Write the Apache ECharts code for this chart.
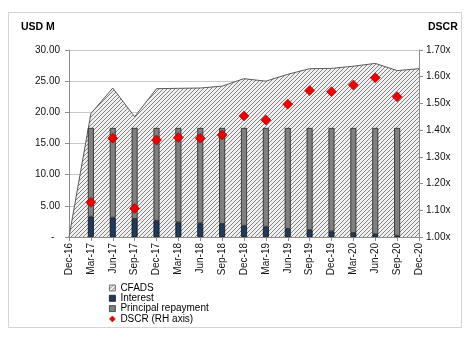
<!DOCTYPE html>
<html>
<head>
<meta charset="utf-8">
<script src="https://cdn.jsdelivr.net/npm/echarts@6.0.0/dist/echarts.min.js"></script>
<style>
html,body{margin:0;padding:0;background:#fff;}
#chart{width:474px;height:356px;}
</style>
</head>
<body>
<div id="chart"></div>
<script>
// ---- data ----
var categories = ['Dec-16','Mar-17','Jun-17','Sep-17','Dec-17','Mar-18','Jun-18','Sep-18','Dec-18','Mar-19','Jun-19','Sep-19','Dec-19','Mar-20','Jun-20','Sep-20','Dec-20'];
var cfads = [0, 19.8, 23.9, 19.3, 23.8, 23.85, 23.9, 24.2, 25.4, 25.0, 26.1, 27.0, 27.05, 27.4, 27.85, 26.7, 27.0];
var interest = [null, 3.25, 3.1, 2.9, 2.6, 2.35, 2.2, 2.1, 1.8, 1.65, 1.3, 1.1, 0.9, 0.65, 0.45, 0.2, null];
var principal = [null, 14.25, 14.4, 14.6, 14.9, 15.15, 15.3, 15.4, 15.7, 15.85, 16.2, 16.4, 16.6, 16.85, 17.05, 17.3, null];
var dscr = [null, 1.13, 1.37, 1.107, 1.363, 1.372, 1.37, 1.382, 1.453, 1.438, 1.497, 1.548, 1.544, 1.569, 1.596, 1.525, null];
var leftTicks = {min: 0, max: 30, interval: 5};
var rightTicks = {min: 1.0, max: 1.7, interval: 0.1};

// ---- hatch pattern ----
function makeHatch() {
  var c = document.createElement('canvas');
  c.width = 4; c.height = 4;
  var ctx = c.getContext('2d');
  ctx.fillStyle = '#f0f0f0';
  ctx.fillRect(0, 0, 4, 4);
  ctx.fillStyle = '#848484';
  for (var i = 0; i < 4; i++) { ctx.fillRect(3 - i, i, 1, 1); }
  return c;
}
var hatch = {image: makeHatch(), repeat: 'repeat'};

var FONT = "'Liberation Sans', Arial, sans-serif";
var chart = echarts.init(document.getElementById('chart'), null, {renderer: 'canvas'});
chart.setOption({
  animation: false,
  backgroundColor: '#ffffff',
  textStyle: {fontFamily: FONT},
  grid: {left: 69, right: 55, top: 50, bottom: 119, containLabel: false},
  graphic: [
    {type: 'rect', shape: {x: 8.5, y: 12.5, width: 453, height: 315}, style: {fill: 'none', stroke: '#d4d4d4', lineWidth: 1}, silent: true, z: -1},
    {type: 'text', left: 21, top: 22, style: {text: 'USD M', font: 'bold 10.5px ' + FONT, fill: '#000'}},
    {type: 'text', left: 428, top: 22, style: {text: 'DSCR', font: 'bold 10.5px ' + FONT, fill: '#000'}}
  ],
  legend: {
    orient: 'vertical', left: 109, top: 283, padding: 0,
    itemWidth: 6, itemHeight: 6, itemGap: 0.3,
    textStyle: {fontSize: 10, lineHeight: 10, color: '#000', fontFamily: FONT},
    data: [
      {name: 'CFADS', icon: 'rect', itemStyle: {color: hatch, borderColor: '#555', borderWidth: 0.8}},
      {name: 'Interest', icon: 'rect', itemStyle: {color: '#1f3a5c', borderColor: '#111', borderWidth: 0.8}},
      {name: 'Principal repayment', icon: 'rect', itemStyle: {color: '#808080', borderColor: '#333', borderWidth: 0.8}},
      {name: 'DSCR (RH axis)', icon: 'diamond', itemStyle: {color: '#ee0000', borderColor: '#a00000', borderWidth: 0.5}}
    ]
  },
  xAxis: {
    type: 'category', data: categories, boundaryGap: false,
    axisLine: {lineStyle: {color: '#8c8c8c', width: 1}},
    axisTick: {show: true, length: 4, alignWithLabel: true, lineStyle: {color: '#8c8c8c'}},
    axisLabel: {rotate: 90, fontSize: 10, color: '#111', margin: 6, interval: 0, fontFamily: FONT}
  },
  yAxis: [
    {
      type: 'value', min: leftTicks.min, max: leftTicks.max, interval: leftTicks.interval,
      axisLine: {show: true, lineStyle: {color: '#8c8c8c'}},
      axisTick: {show: true, length: 4, lineStyle: {color: '#8c8c8c'}},
      splitLine: {show: true, lineStyle: {color: '#c8c8c8', width: 1}},
      axisLabel: {fontSize: 10, color: '#111', margin: 9, fontFamily: FONT,
        formatter: function (v) { return v === 0 ? '-  ' : v.toFixed(2); }}
    },
    {
      type: 'value', min: rightTicks.min, max: rightTicks.max, interval: rightTicks.interval,
      position: 'right',
      axisLine: {show: true, lineStyle: {color: '#8c8c8c'}},
      axisTick: {show: true, length: 4, lineStyle: {color: '#8c8c8c'}},
      splitLine: {show: false},
      axisLabel: {fontSize: 10, color: '#111', margin: 7, fontFamily: FONT,
        formatter: function (v) { return v.toFixed(2) + 'x'; }}
    }
  ],
  series: [
    {
      name: 'CFADS', type: 'line', data: cfads, yAxisIndex: 0,
      showSymbol: false, symbol: 'none', z: 1,
      lineStyle: {color: '#5a5a5a', width: 1},
      itemStyle: {color: '#999'},
      areaStyle: {color: hatch, opacity: 1}
    },
    {
      name: 'Interest', type: 'bar', stack: 'ds', data: interest, yAxisIndex: 0,
      barWidth: 6, z: 3,
      itemStyle: {color: '#1f3a5c', borderColor: '#111', borderWidth: 0.8}
    },
    {
      name: 'Principal repayment', type: 'bar', stack: 'ds', data: principal, yAxisIndex: 0,
      barWidth: 6, z: 3,
      itemStyle: {color: '#808080', borderColor: '#222', borderWidth: 0.8}
    },
    {
      name: 'DSCR (RH axis)', type: 'scatter', data: dscr, yAxisIndex: 1,
      symbol: 'diamond', symbolSize: 10, z: 5,
      itemStyle: {color: '#ee0000', borderColor: '#a00000', borderWidth: 0.6, opacity: 1}
    }
  ]
});
</script>
</body>
</html>
